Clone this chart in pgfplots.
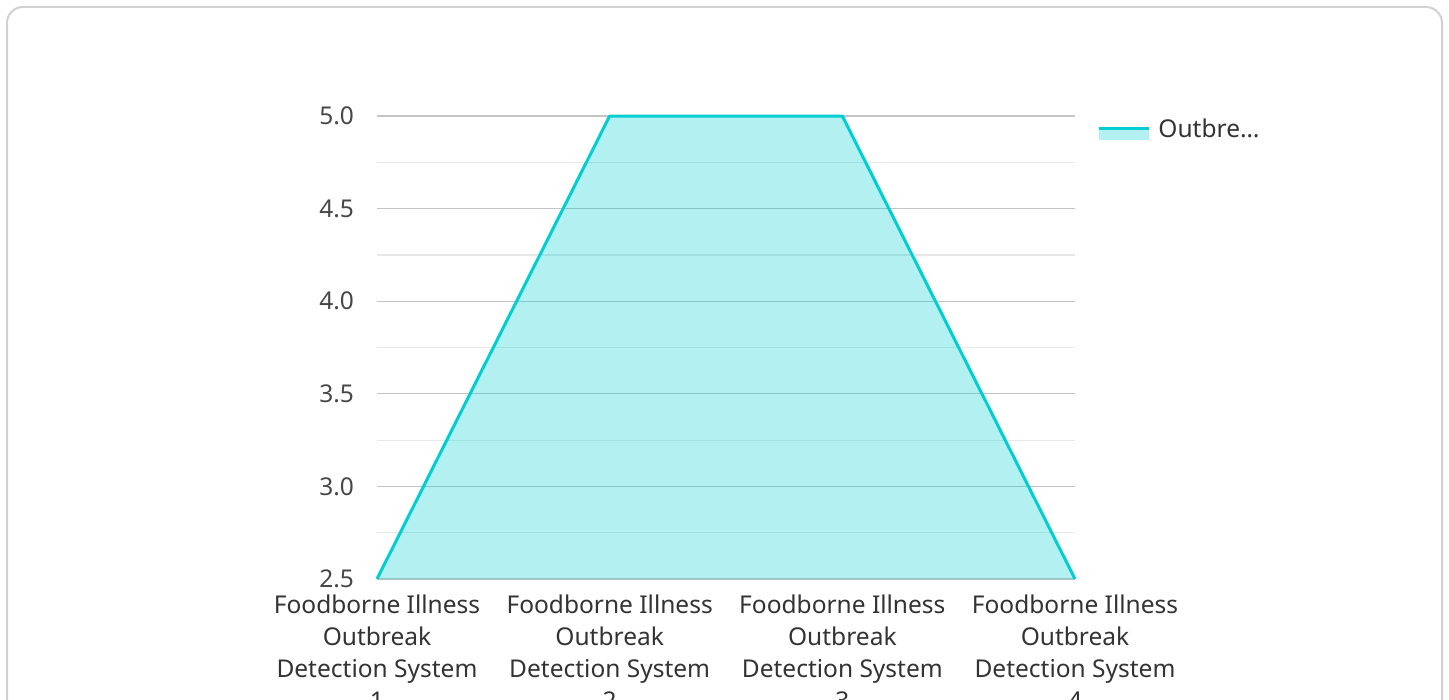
\documentclass[border=0pt]{standalone}
\usepackage{fontspec}
\setmainfont{Noto Sans}
\usepackage{pgfplots}
\pgfplotsset{compat=1.18}
\definecolor{linec}{HTML}{00CED1}
\definecolor{txt}{HTML}{333333}
\definecolor{majgrid}{HTML}{C4C4C4}
\definecolor{mingrid}{HTML}{E8E8E8}

\begin{document}
\begin{tikzpicture}
\useasboundingbox (0bp,0bp) rectangle (724.5bp,350bp);
\draw[black!18, line width=1bp, rounded corners=8bp] (3.5bp,-30bp) rectangle (721bp,346.5bp);
\begin{axis}[
  at={(188.5bp,60.5bp)}, anchor=south west,
  scale only axis,
  width=349bp, height=231.5bp,
  xmin=0, xmax=3, ymin=2.5, ymax=5,
  clip=false,
  axis line style={draw=none},
  major tick length=0pt, minor tick length=0pt,
  ytick={2.5,3,3.5,4,4.5,5},
  minor y tick num=1,
  ymajorgrids, yminorgrids,
  major grid style={majgrid, line width=0.6bp},
  minor grid style={mingrid, line width=0.6bp},
  xtick={0,1,2,3},
  xticklabels={
    {Foodborne Illness\\Outbreak\\Detection System\\1},
    {Foodborne Illness\\Outbreak\\Detection System\\2},
    {Foodborne Illness\\Outbreak\\Detection System\\3},
    {Foodborne Illness\\Outbreak\\Detection System\\4}},
  xticklabel style={align=center, font=\fontsize{12.3}{16}\selectfont, text=txt, anchor=north, yshift=-4.5bp},
  yticklabel style={font=\fontsize{12.3}{14}\selectfont, text=txt!90, anchor=east, xshift=-8bp},
  y tick label style={/pgf/number format/.cd, fixed, fixed zerofill, precision=1},
  /pgf/number format/assume math mode=true,
  legend style={at={(1,1)}, anchor=north west, draw=none, fill=none,
    xshift=9bp, yshift=3bp, font=\fontsize{12.3}{14}\selectfont, text=txt,
    inner sep=2bp},
  legend cell align=left,
  legend image code/.code={
    \path[fill=linec, fill opacity=0.3, draw=none] (0bp,-5.5bp) rectangle (25bp,0.5bp);
    \draw[linec, line width=1.5bp] (0bp,0.5bp) -- (25bp,0.5bp);
  },
]
\addplot[fill=linec, fill opacity=0.3, draw=none, forget plot]
  coordinates {(0,2.5) (1,5) (2,5) (3,2.5)} -- cycle;
\addplot[linec, line width=1.5bp, line join=round]
  coordinates {(0,2.5) (1,5) (2,5) (3,2.5)};
\addlegendentry{\hspace{2bp}Outbre…}
\end{axis}
\end{tikzpicture}
\end{document}
